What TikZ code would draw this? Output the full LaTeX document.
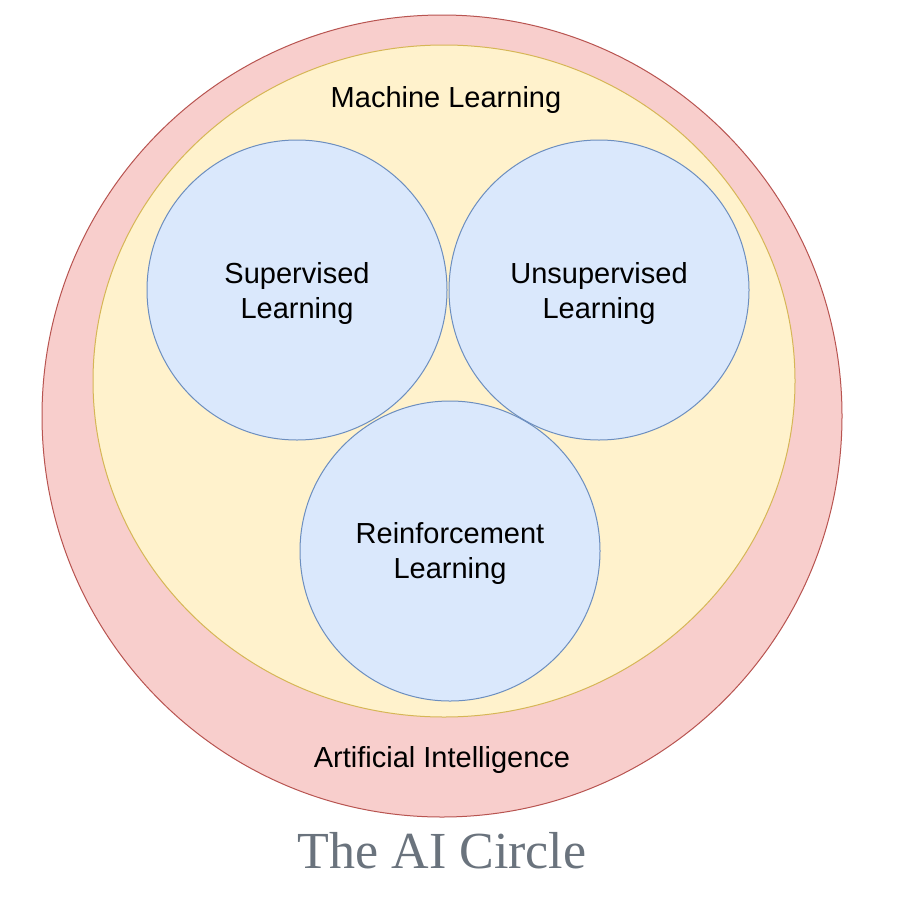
\documentclass[tikz,border=0pt]{standalone}
\usepackage{fontspec}
\setmainfont{Liberation Sans}
\newfontfamily\capfont{Liberation Serif}
\definecolor{redf}{HTML}{F8CECC}\definecolor{redd}{HTML}{B85450}
\definecolor{yelf}{HTML}{FFF2CC}\definecolor{yeld}{HTML}{D6B656}
\definecolor{bluf}{HTML}{DAE8FC}\definecolor{blud}{HTML}{6C8EBF}
\definecolor{capc}{HTML}{6A737D}
\begin{document}
\begin{tikzpicture}[x=1pt,y=-1pt,
  lbl/.style={font=\fontsize{29}{35}\selectfont, align=center, text=black},
  bluec/.style={circle, draw=blud, fill=bluf, line width=1pt, minimum size=300pt, inner sep=0pt}]
\useasboundingbox (0,0) rectangle (909,905);
\fill[white] (0,0) rectangle (909,905);
\draw[draw=redd, fill=redf, line width=1pt] (442,416) ellipse [x radius=400, y radius=401];
\draw[draw=yeld, fill=yelf, line width=1pt] (444,381) ellipse [x radius=351, y radius=336];
\node[bluec] (sup) at (297,290) {};
\node[bluec] (uns) at (599,290) {};
\node[bluec] (rei) at (450,551) {};
\node[lbl] (tsup) at (297,293) {Supervised\\Learning};
\node[lbl] (tuns) at (599,293) {Unsupervised\\Learning};
\node[lbl] (trei) at (450,553) {Reinforcement\\Learning};
\node[lbl] (ml) at (446,100) {Machine Learning};
\node[lbl] (ai) at (442,760) {Artificial Intelligence};
\node[font=\capfont\fontsize{52}{60}\selectfont, text=capc] (cap) at (442,851) {The AI Circle};
\end{tikzpicture}
\end{document}
